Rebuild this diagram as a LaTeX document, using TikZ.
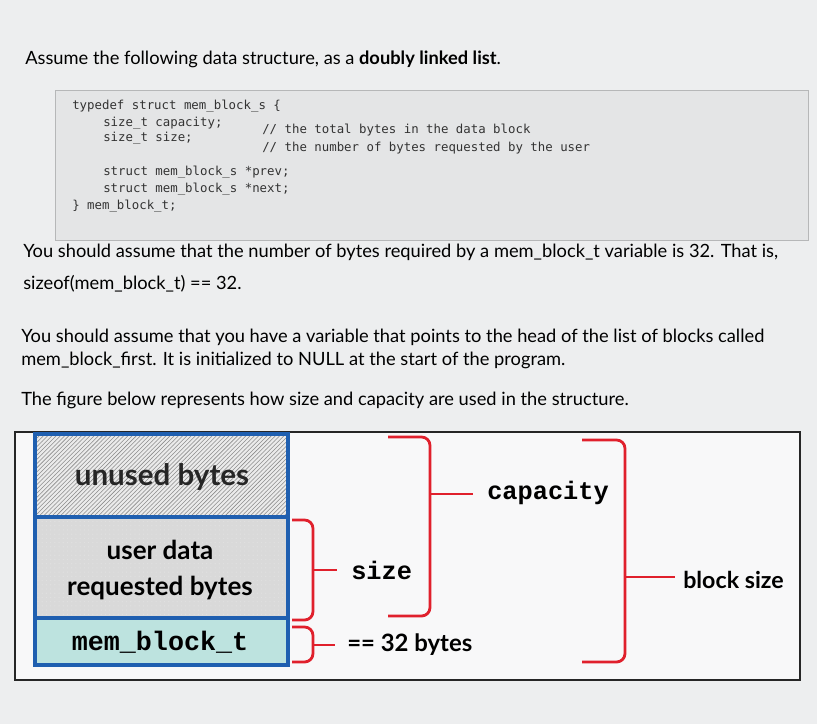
\documentclass[tikz,border=0pt]{standalone}
\usepackage{fontspec}
\setmainfont{Lato}
\newfontfamily\codefont{DejaVu Sans Mono}
\newfontfamily\ttbold{Liberation Mono}
\usetikzlibrary{patterns}

\definecolor{pagebg}{HTML}{EDEEEF}
\definecolor{codebg}{HTML}{E4E5E6}
\definecolor{blockblue}{HTML}{1F5FB0}
\definecolor{tealfill}{HTML}{BDE3DF}
\definecolor{bracered}{HTML}{E0202C}

\tikzset{
  para/.style={anchor=base west, inner sep=0pt, font=\fontsize{13pt}{15pt}\selectfont},
  code/.style={anchor=base west, inner sep=0pt, font=\codefont\fontsize{8.8pt}{11pt}\selectfont, text=black!80},
  block/.style={draw=blockblue, line width=2.2pt},
  brace/.style={draw=bracered, line width=2pt, rounded corners=6pt},
  lbl/.style={anchor=west, inner sep=0pt, font=\bfseries\fontsize{17pt}{20pt}\selectfont},
  ttlbl/.style={anchor=west, inner sep=0pt, font=\ttbold\bfseries\fontsize{18pt}{20pt}\selectfont}
}

% #1 name, #2 x start, #3 x bar, #4 x tip, #5 y top, #6 y tip, #7 y bottom
\newcommand\redbrace[7]{%
  \coordinate (#1-top) at (#2,#5);
  \coordinate (#1-bot) at (#2,#7);
  \coordinate (#1-mid) at (#3,#6);
  \coordinate (#1-tip) at (#4,#6);
  \draw[brace] (#1-top) -- (#3,#5) -- (#1-mid) -- (#3,#7) -- (#1-bot);
  \draw[brace] (#1-mid) -- (#1-tip);
}

\begin{document}
\begin{tikzpicture}[x=0.025cm,y=-0.025cm]
  \fill[pagebg] (0,0) rectangle (817,724);
  \useasboundingbox (0,0) rectangle (817,724);

  % intro text
  \node[para] (intro) at (25,64) {Assume the following data structure, as a \textbf{doubly linked list}.};

  % code box
  \draw[codebg!80!black, fill=codebg] (55,90) rectangle (808,240);
  \node[code] (c1) at (72,109) {typedef struct mem\_block\_s \{};
  \node[code] (c2) at (103,126) {size\_t capacity;};
  \node[code] (c3) at (103,141) {size\_t size;};
  \node[code] (c2c) at (262,133) {// the total bytes in the data block};
  \node[code] (c3c) at (262,151) {// the number of bytes requested by the user};
  \node[code] (c4) at (103,175) {struct mem\_block\_s *prev;};
  \node[code] (c5) at (103,192) {struct mem\_block\_s *next;};
  \node[code] (c6) at (72,209) {\} mem\_block\_t;};

  % paragraphs
  \node[para] (p1a) at (23,257) {You should assume that the number of bytes required by a mem\_block\_t variable is 32. That is,};
  \node[para] (p1b) at (23,289) {sizeof(mem\_block\_t) == 32.};
  \node[para] (p2a) at (21,342) {You should assume that you have a variable that points to the head of the list of blocks called};
  \node[para] (p2b) at (21,365) {mem\_block\_first. It is initialized to NULL at the start of the program.};
  \node[para] (p3) at (21,405) {The figure below represents how size and capacity are used in the structure.};

  % figure frame
  \draw[white, fill=white!60!pagebg] (15,432) rectangle (800,680);
  \draw[black!85, line width=0.8pt] (15,432) rectangle (800,680);

  % memory block
  \fill[black!8] (35,434) rectangle (288,517);
  \fill[pattern=north east lines, pattern color=black!45] (35,434) rectangle (288,517);
  \fill[white!85!black] (35,517) rectangle (288,618);
  \fill[pattern=dots, pattern color=black!12] (35,517) rectangle (288,618);
  \fill[tealfill] (35,618) rectangle (288,665);
  \draw[block] (35,434) rectangle (288,665);
  \draw[block] (35,517) -- (288,517);
  \draw[block] (35,618) -- (288,618);

  \node[lbl, anchor=center, font=\bfseries\fontsize{21pt}{24pt}\selectfont, text=black!85] (unused) at (162,477) {unused bytes};
  \node[lbl, anchor=center, align=center, font=\bfseries\fontsize{18.5pt}{26pt}\selectfont] (user) at (160,570) {user data\\requested bytes};
  \node[ttlbl, anchor=center, font=\ttbold\bfseries\fontsize{19pt}{22pt}\selectfont] (header) at (160,642) {mem\_block\_t};

  % braces
  \redbrace{hdr}{292}{313}{335}{627}{645}{662}
  \redbrace{sz}{292}{313}{337}{520}{570}{620}
  \redbrace{cap}{388}{430}{473}{437}{494}{616}
  \redbrace{blk}{582}{625}{675}{440}{577}{662}

  \node[lbl] (bytes32) at (347,645) {== 32 bytes};
  \node[ttlbl] (sizelbl) at (351,570) {size};
  \node[ttlbl] (caplbl) at (487,493) {capacity};
  \node[lbl, font=\bfseries\fontsize{16.5pt}{18pt}\selectfont] (blklbl) at (683,580) {block size};
\end{tikzpicture}
\end{document}
